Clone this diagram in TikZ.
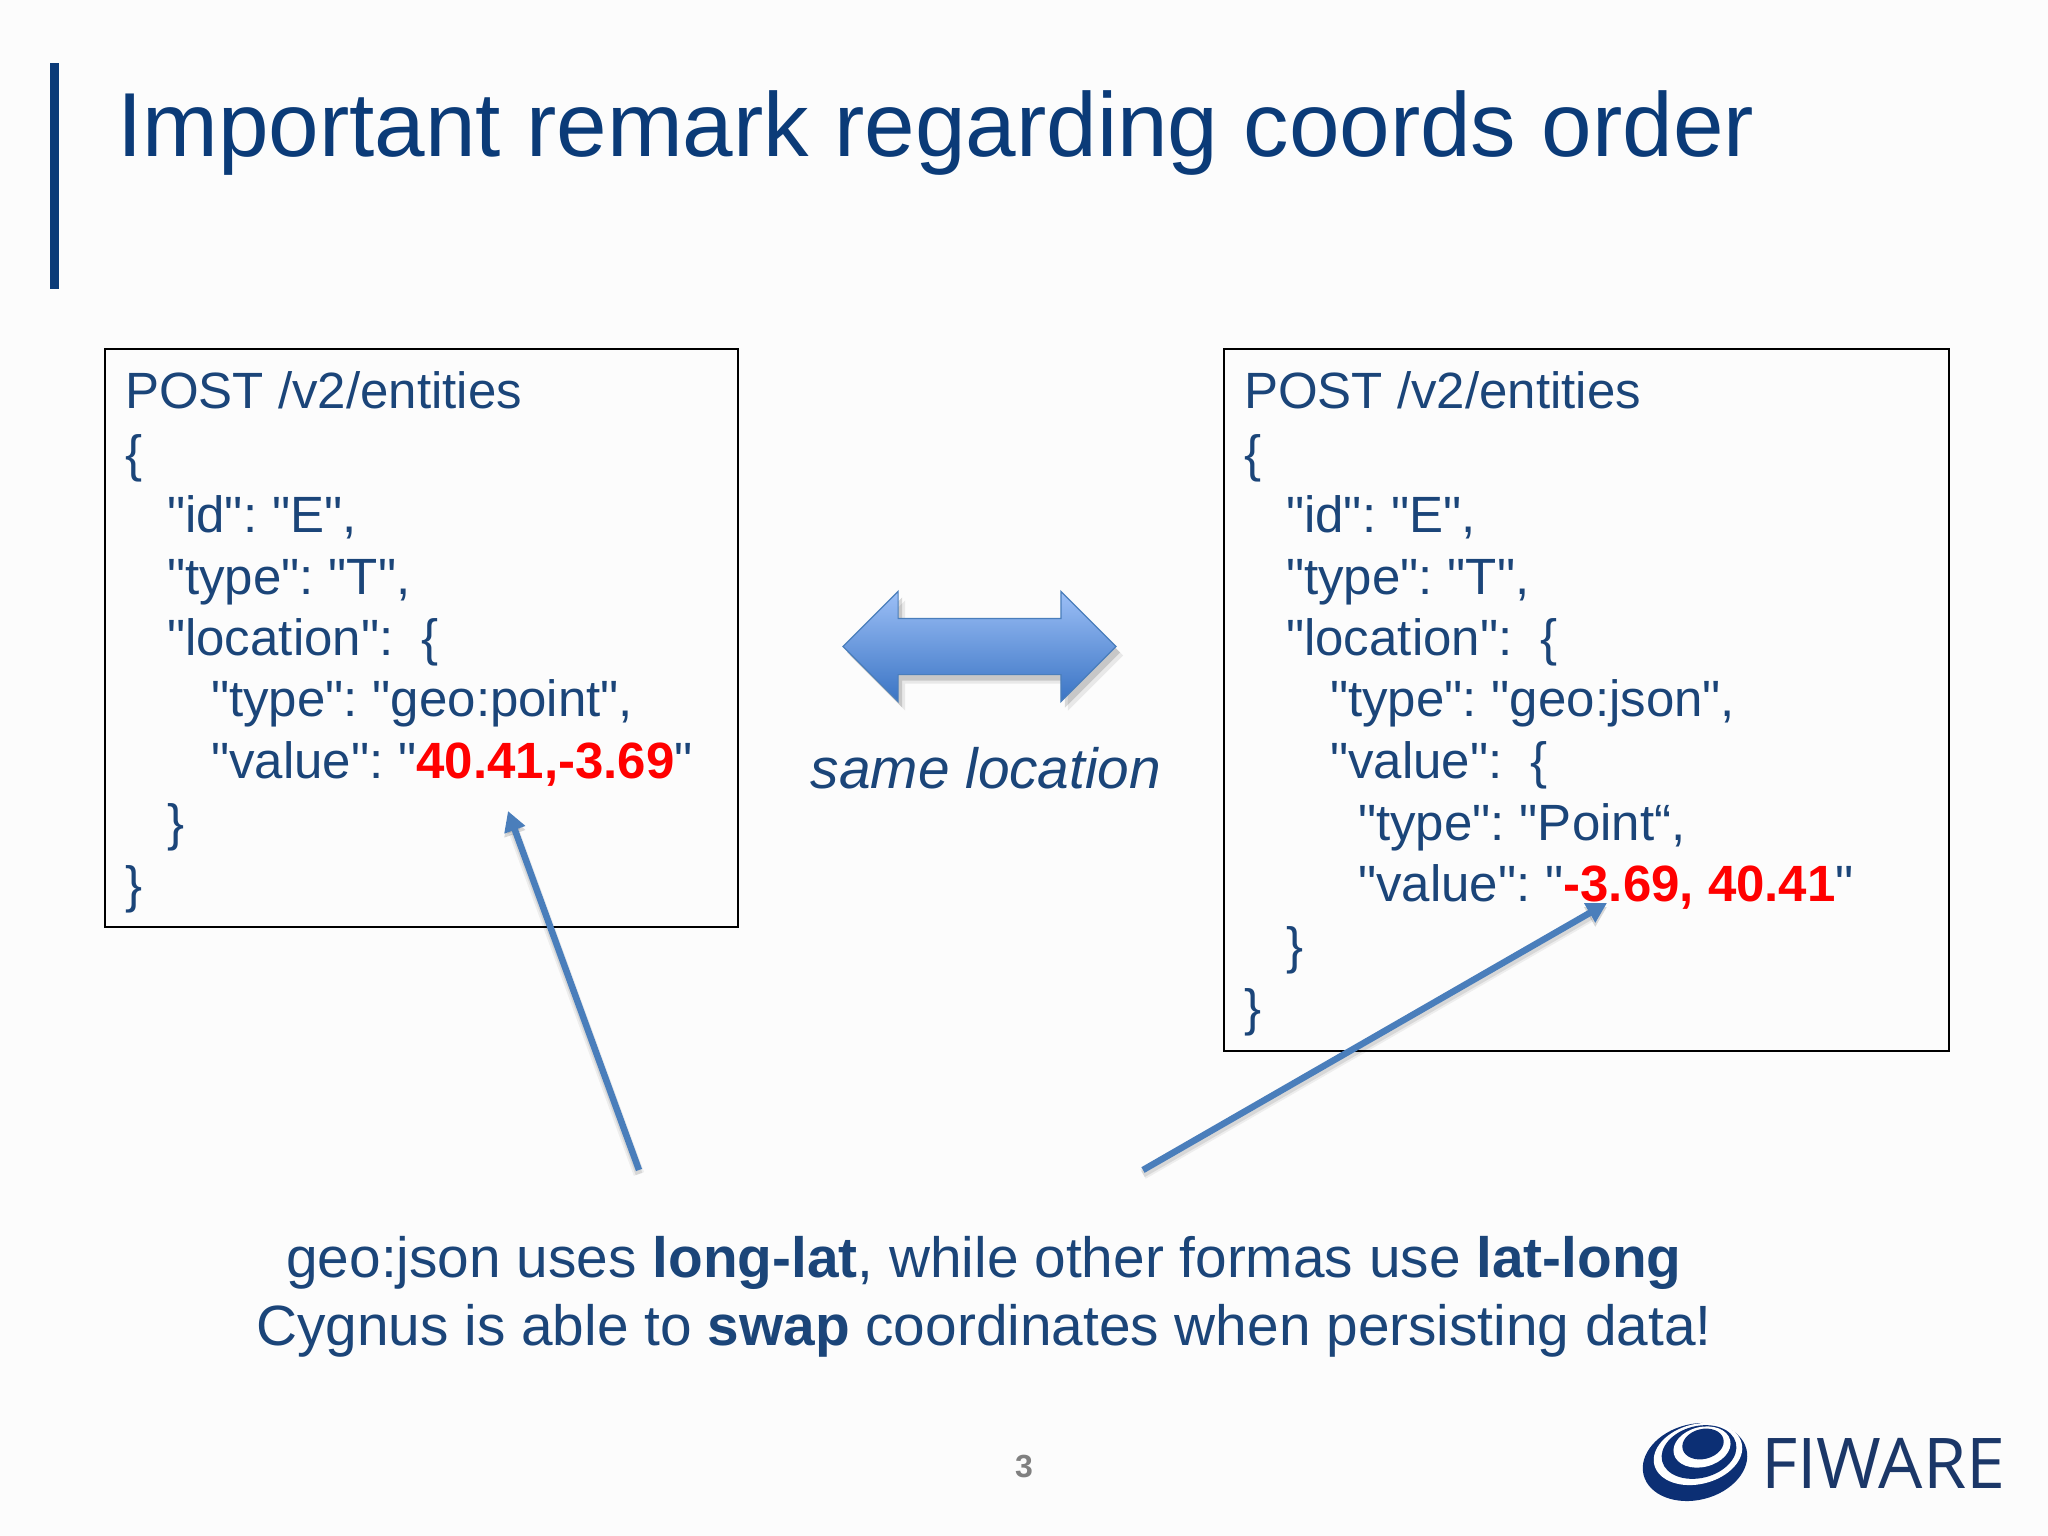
\documentclass[tikz,border=0pt]{standalone}
\usepackage{fontspec}
\setmainfont{Liberation Sans}
\newfontfamily\plainsans{Liberation Sans}
\newfontfamily\logofont{Open Sans}
\usetikzlibrary{arrows.meta,shapes.arrows,shadows}
\definecolor{titleblue}{HTML}{0B3B78}
\definecolor{bodyblue}{HTML}{1B4579}
\definecolor{linkblue}{HTML}{4A7EBB}
\definecolor{navy}{HTML}{0C2F74}
\definecolor{logotext}{HTML}{1B3768}
\definecolor{gradtop}{HTML}{9CBFF6}
\definecolor{gradbot}{HTML}{3A74C4}
\newcommand{\hot}[1]{\textcolor{red}{\textbf{#1}}}
\newcommand{\cs}{:\hspace{-4pt} }
\tikzset{
  x=1pt,y=-1pt,
  titletext/.style={anchor=base west,inner sep=0pt,text=titleblue,font=\fontsize{90.9}{100}\selectfont},
  codeline/.style={anchor=base west,inner sep=0pt,text=bodyblue,font=\plainsans\fontsize{51}{60}\selectfont},
  codebox/.style={draw=black,line width=2pt,fill=none,anchor=north west,inner sep=0pt,outer sep=0pt},
  remark/.style={anchor=base,inner sep=0pt,text=bodyblue,font=\fontsize{56.8}{68}\selectfont},
  pointer/.style={draw=linkblue,line width=6.5pt,-{Triangle[length=20pt,width=21pt]},
    preaction={draw=black,opacity=.06,line width=11pt,transform canvas={shift={(0pt,-4pt)}}},
    preaction={draw=black,opacity=.09,line width=7pt,transform canvas={shift={(0pt,-4pt)}}}},
  bigarrow/.style={double arrow,double arrow head extend=27pt,double arrow tip angle=90,
    minimum height=273pt,inner xsep=0pt,inner ysep=27.5pt,draw=linkblue,line width=1.2pt,
    top color=gradtop,bottom color=gradbot,
    drop shadow={shadow xshift=7pt,shadow yshift=-9pt,fill=black,opacity=.08},
    drop shadow={shadow xshift=4pt,shadow yshift=-6pt,fill=black,opacity=.14}},
}
\begin{document}
\begin{tikzpicture}
\useasboundingbox (0,0) rectangle (2048,1536);
\fill[white!99!black] (0,0) rectangle (2048,1536);
\fill[titleblue] (50,63) rectangle (59,289);
\node[titletext] (title) at (117,157) {Important remark regarding coords order};

\node[codebox,minimum width=633pt,minimum height=578pt] (lbox) at (105,349) {};
\node[codebox,minimum width=725pt,minimum height=702pt] (rbox) at (1224,349) {};

\node[codeline] (l1) at (125,408) {POST /v2/entities};
\node[codeline] (l2) at (125,471) {\{};
\node[codeline] (l3) at (167,532) {"id"\cs"E",};
\node[codeline] (l4) at (167,594) {"type"\cs"T",};
\node[codeline] (l5) at (167,655) {"location":\ \ \{};
\node[codeline] (l6) at (211,716) {"type"\cs"geo:point",};
\node[codeline] (l7) at (211,778) {"value"\cs"\hot{40.41,-3.69}"};
\node[codeline] (l8) at (167,840) {\}};
\node[codeline] (l9) at (125,902) {\}};

\node[codeline] (r1) at (1244,408) {POST /v2/entities};
\node[codeline] (r2) at (1244,471) {\{};
\node[codeline] (r3) at (1286,532) {"id"\cs"E",};
\node[codeline] (r4) at (1286,594) {"type"\cs"T",};
\node[codeline] (r5) at (1286,655) {"location":\ \ \{};
\node[codeline] (r6) at (1330,716) {"type"\cs"geo:json",};
\node[codeline] (r7) at (1330,778) {"value":\ \ \{};
\node[codeline] (r8) at (1358,840) {"type"\cs"Point“,};
\node[codeline] (r9) at (1358,901) {"value"\cs"\hot{-3.69, 40.41}"};
\node[codeline] (r10) at (1286,963) {\}};
\node[codeline] (r11) at (1244,1025) {\}};

\node[bigarrow] (both) at (979.5,646.5) {};
\node[anchor=base,inner sep=0pt,text=bodyblue,font=\fontsize{56.8}{64}\itshape\selectfont] (same) at (986,788) {same location};

\node[remark] (rem1) at (984,1277) {geo:json uses \textbf{long-lat}, while other formas use \textbf{lat-long}};
\node[remark] (rem2) at (984,1345) {Cygnus is able to \textbf{swap} coordinates when persisting data!};

\coordinate (tailA) at (639,1170);
\coordinate (tipA) at (508,811);
\coordinate (tailB) at (1143,1170);
\coordinate (tipB) at (1607,903);
\draw[pointer] (tailA) -- (tipA);
\draw[pointer] (tailB) -- (tipB);

\node[inner sep=0pt,text=black!50,font=\fontsize{32}{38}\bfseries\selectfont] (page) at (1024,1466) {3};

% logo
\fill[navy,rotate around={14:(1695,1462)}] (1695,1462) ellipse [x radius=53,y radius=38];
\fill[white,rotate around={14:(1698,1454)}] (1698,1454) ellipse [x radius=45,y radius=30];
\fill[navy,rotate around={14:(1699,1452)}] (1699,1452) ellipse [x radius=38,y radius=26];
\fill[white,rotate around={14:(1702,1447)}] (1702,1447) ellipse [x radius=29,y radius=20];
\fill[navy,rotate around={14:(1703,1444)}] (1703,1444) ellipse [x radius=21,y radius=15];
\node[anchor=base west,inner sep=0pt,text=logotext,font=\logofont\fontsize{70}{80}\selectfont] (logo) at (1761,1488) {FIWARE};
\end{tikzpicture}
\end{document}
